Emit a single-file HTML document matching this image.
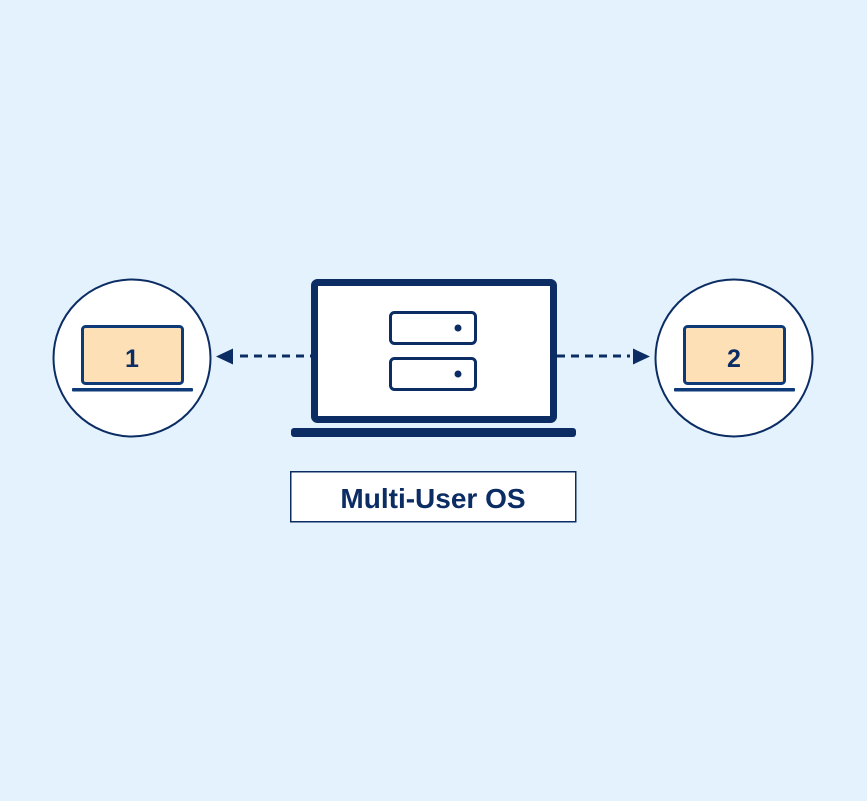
<!DOCTYPE html>
<html><head><meta charset="utf-8"><style>
html,body{margin:0;padding:0;background:#e4f2fd;}
svg{display:block}
</style></head><body>
<svg width="867" height="801" viewBox="0 0 867 801" xmlns="http://www.w3.org/2000/svg">
<rect width="867" height="801" fill="#e4f2fd"/>
<!-- left circle -->
<circle cx="132" cy="358" r="78.5" fill="#fff" stroke="#0b2d64" stroke-width="2"/>
<rect x="82.5" y="326.5" width="100" height="57" rx="3" fill="#fde0b6" stroke="#0e3a78" stroke-width="3"/>
<rect x="72" y="388" width="121" height="3.5" rx="1" fill="#0e3a78"/>
<text x="132" y="367" font-family="Liberation Sans, sans-serif" font-weight="bold" font-size="25" fill="#0b2d64" text-anchor="middle">1</text>
<!-- right circle -->
<circle cx="734" cy="358" r="78.5" fill="#fff" stroke="#0b2d64" stroke-width="2"/>
<rect x="684.5" y="326.5" width="100" height="57" rx="3" fill="#fde0b6" stroke="#0e3a78" stroke-width="3"/>
<rect x="674" y="388" width="121" height="3.5" rx="1" fill="#0e3a78"/>
<text x="734" y="367" font-family="Liberation Sans, sans-serif" font-weight="bold" font-size="25" fill="#0b2d64" text-anchor="middle">2</text>
<!-- arrows -->
<line x1="240" y1="356" x2="311" y2="356" stroke="#0b2d64" stroke-width="3" stroke-dasharray="8 6"/>
<polygon points="216,356.5 233,348.5 233,364.5" fill="#0b2d64"/>
<line x1="557" y1="356" x2="630" y2="356" stroke="#0b2d64" stroke-width="3" stroke-dasharray="8 6"/>
<polygon points="650,356.5 633,348.5 633,364.5" fill="#0b2d64"/>
<!-- main laptop -->
<rect x="314.5" y="282.5" width="239" height="137" rx="3" fill="#fff" stroke="#0b2d64" stroke-width="7"/>
<rect x="291" y="428" width="285" height="9" rx="3" fill="#0b2d64"/>
<rect x="390.5" y="312.5" width="85" height="31" rx="4" fill="#fff" stroke="#0b2d64" stroke-width="3"/>
<rect x="390.5" y="358.5" width="85" height="31" rx="4" fill="#fff" stroke="#0b2d64" stroke-width="3"/>
<circle cx="458" cy="328" r="3.5" fill="#0b2d64"/>
<circle cx="458" cy="374" r="3.5" fill="#0b2d64"/>
<!-- label -->
<rect x="290.75" y="471.75" width="285" height="50" fill="#fff" stroke="#0b2d64" stroke-width="1.5"/>
<text x="433" y="508" font-family="Liberation Sans, sans-serif" font-weight="bold" font-size="28" fill="#0b2d64" text-anchor="middle">Multi-User OS</text>
</svg>
</body></html>
